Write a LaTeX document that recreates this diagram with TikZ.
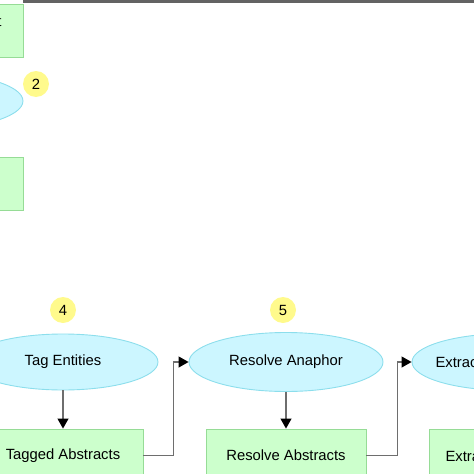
\documentclass[tikz,border=0pt]{standalone}
\usepackage{fontspec}
\setmainfont{Liberation Sans}
\usetikzlibrary{shapes.geometric,arrows.meta}
\definecolor{boxfill}{RGB}{204,255,204}
\definecolor{boxline}{RGB}{150,220,150}
\definecolor{procfill}{RGB}{204,246,255}
\definecolor{procline}{RGB}{140,222,236}
\definecolor{badgefill}{RGB}{255,250,140}
\definecolor{flowline}{RGB}{110,110,110}
\tikzset{
  databox/.style={rectangle,draw=boxline,fill=boxfill,line width=0.9pt,
    minimum width=160,minimum height=53,inner sep=0},
  procstep/.style={ellipse,draw=procline,fill=procfill,line width=0.9pt,
    minimum width=194,minimum height=57,inner sep=0},
  badge/.style={circle,fill=badgefill,minimum size=26,inner sep=0},
  flow/.style={draw=flowline,line width=1.1pt,-{Triangle[color=black,length=10pt,width=11pt]}}
}
\begin{document}
\begin{tikzpicture}[x=1pt,y=-1pt,font=\fontsize{14.8}{17}\selectfont]
  \useasboundingbox (0,0) rectangle (474,474);
  \clip (0,0) rectangle (474,474);
  \fill[flowline!90!black] (23,0) rectangle (474,3);
  % steps cut at the left edge
  \node[databox] (get) at (-57,30.5) {};
  \node[anchor=east] (gettext) at (5,22) {t};
  \node[procstep] (step2) at (-74,101) {};
  \node[badge] (badge2) at (36,84) {2};
  \node[databox] (step3) at (-57,183.5) {};
  % bottom row
  \node[procstep,minimum width=190,minimum height=56] (tag) at (63,362) {Tag Entities};
  \node[badge] (badge4) at (63,310) {4};
  \node[databox] (tagged) at (63,455.5) {Tagged Abstracts};
  \node[procstep,minimum height=59] (resolve) at (286,362) {Resolve Anaphor};
  \node[badge] (badge5) at (283,310) {5};
  \node[databox] (resolved) at (286,455.5) {Resolve Abstracts};
  \node[procstep] (extract) at (509,362) {};
  \node[anchor=west] (extracttext) at (432,362) {Extract};
  \node[databox] (extracted) at (509,455.5) {};
  \node[anchor=west] (extractedtext) at (442,456) {Extract};
  % connectors
  \draw[flow] (tag.south) -- (tagged.north);
  \draw[flow] (tagged.east) -- ++(30,0) |- (resolve.west);
  \draw[flow] (resolve.south) -- (resolved.north);
  \draw[flow] (resolved.east) -- ++(31,0) |- (extract.west);
\end{tikzpicture}
\end{document}
